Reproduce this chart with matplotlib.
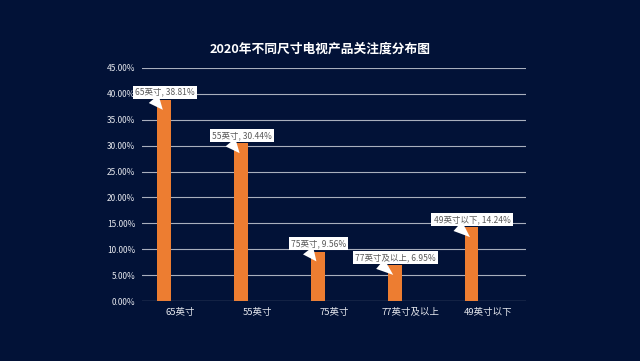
import matplotlib.pyplot as plt
import numpy as np

plt.rcParams['font.family'] = ['Noto Sans CJK SC', 'DejaVu Sans']

categories = ['65英寸', '55英寸', '75英寸', '77英寸及以上', '49英寸以下']
shares = [38.81, 30.44, 9.56, 6.95, 14.24]
yticks = [0, 5, 10, 15, 20, 25, 30, 35, 40, 45]

bg = '#021237'
bar_color = '#ED7D31'
grid_color = '#A9AFBD'

fig = plt.figure(figsize=(6.4, 3.61), dpi=100, facecolor=bg)
ax = fig.add_axes([0.222, 0.166, 0.6, 0.646], facecolor=bg)

x = np.arange(len(categories))
bx = x - 0.21
ax.bar(bx, shares, width=0.18, color=bar_color, zorder=3)

ax.set_xlim(-0.5, len(categories) - 0.5)
ax.set_ylim(0, 45)
ax.set_yticks(yticks)
ax.set_yticklabels([f'{v:.2f}%' for v in yticks], fontsize=6, color='#E6E8EE')
ax.set_xticks(x)
ax.set_xticklabels(categories, fontsize=6.8, color='#E6E8EE')
ax.tick_params(axis='y', length=0, pad=5)
ax.tick_params(axis='x', length=0, pad=5)
ax.grid(axis='y', color=grid_color, linewidth=0.8, zorder=0)
ax.axhline(0, color=grid_color, linewidth=0.8, zorder=4)
for s in ax.spines.values():
    s.set_visible(False)

# callout labels: white box above each bar with a wedge pointing into the bar top
for xi, v, name in zip(bx, shares, categories):
    ax.annotate(f'{name}, {v:.2f}%', xy=(xi - 0.02, v - 1.9), xytext=(2, 13),
                textcoords='offset pixels', ha='center', va='bottom',
                fontsize=6.1, color='#595959', zorder=5,
                bbox=dict(boxstyle='square,pad=0.25', fc='white', ec='none'),
                arrowprops=dict(arrowstyle='wedge,tail_width=1.5', fc='white',
                                ec='none', shrinkA=0, shrinkB=0,
                                relpos=(0.27, 0.1)))

fig.text(0.5, 0.865, '2020年不同尺寸电视产品关注度分布图', ha='center', va='center',
         fontsize=9.2, fontweight='bold', color='white')

fig.savefig('out.png', dpi=100, facecolor=bg)
